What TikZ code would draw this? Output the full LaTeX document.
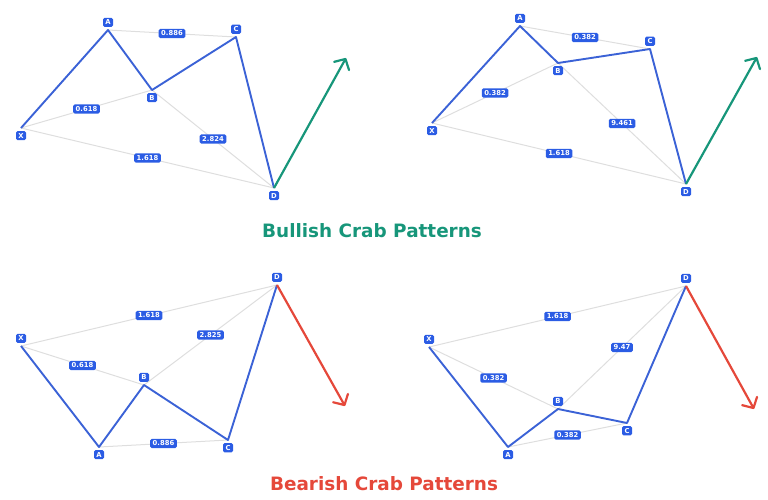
\documentclass[tikz,border=0pt]{standalone}
\usepackage{fontspec}
\setmainfont{DejaVu Sans}
\usepackage{xcolor}
\usepackage{tikz}
\usetikzlibrary{arrows.meta}

\definecolor{legblue}{HTML}{3B62D6}
\definecolor{tagblue}{HTML}{2B5CE4}
\definecolor{ratiogrey}{HTML}{DEDEDE}
\definecolor{bullgreen}{HTML}{17967A}
\definecolor{bearred}{HTML}{E5483A}

\begin{document}
\begin{tikzpicture}[
  x=1pt, y=-1pt,
  leg/.style={draw=legblue, line width=1.9pt, line join=round},
  ratio/.style={draw=ratiogrey, line width=1pt},
  tag/.style={fill=tagblue, text=white, rounded corners=1.5pt, inner xsep=2.5pt, inner ysep=2pt,
    font=\fontsize{6.8}{8}\selectfont\bfseries},
  pt/.style={tag, inner xsep=2pt, minimum width=10pt},
  move/.style={line width=2.2pt, -{Straight Barb[round, length=8pt, width=17pt]}},
  title/.style={font=\fontsize{18.4}{22}\selectfont\bfseries}
]
\useasboundingbox (0,0) rectangle (768,499);

% bullish, left
\coordinate (X1) at (21,128);
\coordinate (A1) at (108,30);
\coordinate (B1) at (152,90);
\coordinate (C1) at (236,37);
\coordinate (D1) at (274,188);
\coordinate (T1) at (346,58);
% bullish, right
\coordinate (X2) at (432,123);
\coordinate (A2) at (520,26);
\coordinate (B2) at (558,63);
\coordinate (C2) at (650,49);
\coordinate (D2) at (686,184);
\coordinate (T2) at (757,57);
% bearish, left
\coordinate (X3) at (21,346);
\coordinate (A3) at (99,447);
\coordinate (B3) at (144,385);
\coordinate (C3) at (228,440);
\coordinate (D3) at (277,285);
\coordinate (T3) at (345,406);
% bearish, right
\coordinate (X4) at (429,347);
\coordinate (A4) at (508,447);
\coordinate (B4) at (558,409);
\coordinate (C4) at (627,423);
\coordinate (D4) at (686,286);
\coordinate (T4) at (754,409);

% ratio lines
\draw[ratio] (A1) -- node[tag] (r1ac) {0.886} (C1);
\draw[ratio] (X1) -- node[tag] (r1xb) {0.618} (B1);
\draw[ratio] (B1) -- node[tag] (r1bd) {2.824} (D1);
\draw[ratio] (X1) -- node[tag] (r1xd) {1.618} (D1);

\draw[ratio] (A2) -- node[tag] (r2ac) {0.382} (C2);
\draw[ratio] (X2) -- node[tag] (r2xb) {0.382} (B2);
\draw[ratio] (B2) -- node[tag] (r2bd) {9.461} (D2);
\draw[ratio] (X2) -- node[tag] (r2xd) {1.618} (D2);

\draw[ratio] (A3) -- node[tag] (r3ac) {0.886} (C3);
\draw[ratio] (X3) -- node[tag] (r3xb) {0.618} (B3);
\draw[ratio] (B3) -- node[tag] (r3bd) {2.825} (D3);
\draw[ratio] (X3) -- node[tag] (r3xd) {1.618} (D3);

\draw[ratio] (A4) -- node[tag] (r4ac) {0.382} (C4);
\draw[ratio] (X4) -- node[tag] (r4xb) {0.382} (B4);
\draw[ratio] (B4) -- node[tag] (r4bd) {9.47} (D4);
\draw[ratio] (X4) -- node[tag] (r4xd) {1.618} (D4);

% legs
\draw[leg] (X1) -- (A1) -- (B1) -- (C1) -- (D1);
\draw[leg] (X2) -- (A2) -- (B2) -- (C2) -- (D2);
\draw[leg] (X3) -- (A3) -- (B3) -- (C3) -- (D3);
\draw[leg] (X4) -- (A4) -- (B4) -- (C4) -- (D4);

% next move
\draw[move, bullgreen] (D1) -- (T1);
\draw[move, bullgreen] (D2) -- (T2);
\draw[move, bearred] (D3) -- (T3);
\draw[move, bearred] (D4) -- (T4);

% point names
\node[pt, below=3pt] (x1) at (X1) {X};
\node[pt, above=3pt] (a1) at (A1) {A};
\node[pt, below=3pt] (b1) at (B1) {B};
\node[pt, above=3pt] (c1) at (C1) {C};
\node[pt, below=3pt] (d1) at (D1) {D};

\node[pt, below=3pt] (x2) at (X2) {X};
\node[pt, above=3pt] (a2) at (A2) {A};
\node[pt, below=3pt] (b2) at (B2) {B};
\node[pt, above=3pt] (c2) at (C2) {C};
\node[pt, below=3pt] (d2) at (D2) {D};

\node[pt, above=3pt] (x3) at (X3) {X};
\node[pt, below=3pt] (a3) at (A3) {A};
\node[pt, above=3pt] (b3) at (B3) {B};
\node[pt, below=3pt] (c3) at (C3) {C};
\node[pt, above=3pt] (d3) at (D3) {D};

\node[pt, above=3pt] (x4) at (X4) {X};
\node[pt, below=3pt] (a4) at (A4) {A};
\node[pt, above=3pt] (b4) at (B4) {B};
\node[pt, below=3pt] (c4) at (C4) {C};
\node[pt, above=3pt] (d4) at (D4) {D};

% titles
\node[title, text=bullgreen] (bull) at (372,231) {Bullish Crab Patterns};
\node[title, text=bearred] (bear) at (384,484) {Bearish Crab Patterns};
\end{tikzpicture}
\end{document}
